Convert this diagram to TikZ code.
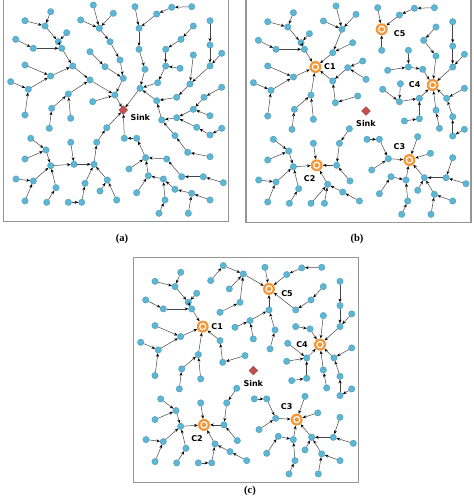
\documentclass[tikz,border=0pt]{standalone}
\usepackage{fontspec}
\newfontfamily\lblfont{DejaVu Sans}
\newfontfamily\capfont{Liberation Serif}
\usetikzlibrary{arrows.meta,shapes.geometric}
\definecolor{sens}{RGB}{92,182,212}
\definecolor{sensd}{RGB}{62,145,178}
\definecolor{hdor}{RGB}{243,152,58}
\definecolor{sinkc}{RGB}{192,80,77}
\definecolor{edgec}{RGB}{70,70,70}
\definecolor{framec}{RGB}{150,150,150}
\tikzset{
 sensor/.style={circle, fill=sens, draw=sensd, line width=0.3pt, minimum size=6.4pt, inner sep=0pt},
 head/.style={circle, fill=hdor, minimum size=12pt, inner sep=0pt,
   path picture={\fill[white] (path picture bounding box.center) circle (3.7pt);
                 \fill[hdor] (path picture bounding box.center) circle (2.3pt);}},
 sinknode/.style={diamond, fill=sinkc, draw=sinkc!80!black, line width=0.3pt, minimum width=9pt, minimum height=9pt, inner sep=0pt},
 link/.style={draw=edgec, line width=0.5pt, -{Stealth[length=3.6pt,width=3pt,black]}},
 frm/.style={draw=framec, line width=1.2pt},
 hlabel/.style={font=\lblfont\bfseries\fontsize{8}{9}\selectfont, inner sep=0pt},
 plabel/.style={font=\capfont\bfseries\fontsize{10.5}{12}\selectfont, inner sep=0pt},
}
\def\nodelist{A/25/20.7,B/50.7/11.7,C/45/26,D/66.7/32.7,E/58.3/41.7,F/15.7/39.3,G/33.3/48.3,H/61.7/48.3,I/72.7/66,J/25/65,K/50.7/76,L/10.7/81.7,M/28.3/89.3,N/25/115,O/90/80,P/68.3/94,Q/51.7/108.3,R/70.7/118.3,S/49.3/128.3,T/93.3/5,U/113.3/13.3,V/80.7/20,W/99.3/28.3,X/110/41.7,Y/120/60,Z/90/51.7,AA/105/66.7,AB/123.3/78.3,AC/115/95,AD/92.7/101.7,BA/135/6.7,BB/171.7/7.3,BC/191.7/6.7,BD/156.7/14,BE/139/28.3,BF/139/49.3,BG/145/69.3,HB/140/88.3,BH/193.3/26,BI/181/39.3,BJ/165.7/49.3,BK/165.7/66,BM/180/68.3,BL/157.7/82.7,BN/210/20.7,BO/210/45,BP/221.7/53.3,BQ/210/66,BS/193.3/55,BT/190/84,BU/176.7/97.3,BR/156.7/100.7,CB/221.7/87.3,CC/204/97.3,CD/193.3/109.3,CE/210/115.7,CF/176.7/117.7,CA/161.7/120,CG/196.7/127.3,CH/210/135,CI/221.7/128.3,CJ/175/135.7,CK/187.7/152.3,CL/210/156.7,DA/124.3/138.3,DB/136.7/138.3,DC/145.7/157.7,DD/166.7/159,DE/129/169,DF/148.3/175.7,DG/163.3/179,DH/181.7/176.7,DI/203.3/176.7,DJ/223.3/182.7,DK/175/189.3,DL/191.7/193.3,DM/210/200,DN/188.3/213.3,DO/165/200,DP/159/213.3,DQ/136.7/192.7,EA/30.7/138.3,EB/46/150,EE/25/159,EC/50.7/165.7,EF/16/179,EH/33.3/181,EI/25/201,EJ/56/187.7,EK/46.7/202.3,EL/70.7/142.3,EG/74/164.3,EM/94/164.3,EN/96.7/142.3,EO/106.7/127.7,EP/85/183.3,EQ/81.7/202.3,ER/68.3/202.3,ES/107.3/180,ET/100/191,EU/116.7/200}
\def\edgesa{A/C,B/C,C/E,D/E,E/H,F/G,G/H,H/I,J/K,L/M,N/M,M/K,K/I,I/O,P/O,Q/P,S/Q,R/P,O/AC,AD/AC,AC/SK,T/W,U/W,V/W,W/X,X/Y,Y/AB,Z/AA,AA/AB,AB/AC,BA/BE,BC/BB,BB/BD,BD/BE,BE/BF,BF/BG,BG/HB,BH/BI,BI/BJ,BJ/BK,BM/BK,BK/BL,BL/HB,BN/BO,BO/BQ,BP/BQ,BQ/BT,BS/BT,BT/BU,BU/BR,BR/HB,HB/SK,CB/CC,CC/CD,CE/CD,CD/CF,CF/CA,CA/BR,CI/CH,CH/CG,CG/CF,CL/CK,CK/CJ,CJ/CA,DB/DA,DA/SK,DC/DB,DD/DC,DE/DC,DF/DC,DG/DF,DQ/DF,DH/DD,DI/DH,DJ/DI,DK/DG,DL/DK,DM/DL,DN/DL,DO/DG,DP/DO,EA/EB,EE/EB,EB/EC,EF/EH,EI/EH,EH/EC,EJ/EC,EK/EJ,EC/EG,EL/EG,EG/EM,EM/EN,EN/EO,EO/SK,EP/EM,ER/EQ,EQ/EP,ES/EM,ET/ES,EU/ES}
\def\edgesb{A/C,B/C,C/E,D/E,E/H,F/G,G/H,H/I,J/K,L/M,N/M,M/K,K/I,T/W,U/W,V/W,W/Z,X/Z,Z/I,Y/AA,AB/AA,AA/O,O/I,AC/AD,AD/O,P/I,Q/P,S/Q,R/P,BA/BE,BC/BB,BB/BD,BD/BE,BF/BE,BH/BI,BI/BS,BS/BT,BN/BO,BO/BQ,BP/BQ,BQ/BT,BJ/BK,BG/BK,BK/BM,BM/BT,HB/BR,BL/BR,BR/BU,BU/BT,CB/CC,CC/BT,CE/CC,CH/CE,CI/CH,CD/BT,CG/CD,CF/BU,CA/CF,DA/DB,DB/DC,DC/DD,DE/DC,CJ/DD,CK/DD,DF/DG,DQ/DF,DG/DD,DH/DD,DI/DH,CL/DI,DJ/DI,DK/DH,DL/DH,DM/DL,DN/DL,DO/DG,DP/DO,EA/EB,EE/EB,EB/EC,EC/EG,EL/EG,EF/EH,EI/EH,EH/EC,EJ/EC,EK/EJ,EM/EG,EN/EM,EO/EN,ES/EM,EP/EG,ET/EP,EU/ET,EQ/EP,ER/EP}
\def\edgesc{A/C,B/C,C/E,D/E,E/H,F/G,G/H,H/I,J/K,L/M,N/M,M/K,K/I,P/I,Q/P,S/Q,R/P,O/I,AD/O,AC/AD,V/T,T/U,W/U,Z/X,X/U,U/BE,BA/BE,BD/BE,BB/BD,BC/BB,BH/BI,BI/BJ,BJ/BE,BF/BE,Y/BF,AA/Y,AB/Y,BG/BF,HB/BG,BS/BT,BN/BO,BO/BQ,BP/BQ,BQ/BT,BK/BM,BM/BT,BL/BU,BR/BU,BU/BT,CA/CF,CF/BU,CD/BT,CG/CD,CB/CC,CC/BT,CE/CC,CH/CE,CI/CH,DA/DB,DB/DC,DC/DD,DE/DC,CJ/DD,CK/DD,DQ/DF,DF/DG,DG/DD,DH/DD,DI/DH,CL/DI,DJ/DI,DK/DH,DL/DH,DM/DL,DN/DL,DO/DG,DP/DO,EA/EB,EE/EB,EB/EC,EC/EG,EL/EG,EF/EH,EI/EH,EH/EC,EJ/EC,EK/EJ,EM/EG,EN/EM,EO/EN,ES/EM,EP/EG,ET/EP,EU/ET,EQ/EP,ER/EQ}
\expandafter\def\csname hdbI\endcsname{1}
\expandafter\def\csname hdbBE\endcsname{1}
\expandafter\def\csname hdbBT\endcsname{1}
\expandafter\def\csname hdbDD\endcsname{1}
\expandafter\def\csname hdbEG\endcsname{1}
\expandafter\def\csname hdcI\endcsname{1}
\expandafter\def\csname hdcBE\endcsname{1}
\expandafter\def\csname hdcBT\endcsname{1}
\expandafter\def\csname hdcDD\endcsname{1}
\expandafter\def\csname hdcEG\endcsname{1}
\newcommand\drawpanel[2]{%
  \foreach \n/\x/\y in \nodelist {%
    \ifcsname hd#1\n\endcsname
      \node[head] (#1\n) at (\x,\y) {};
    \else
      \node[sensor] (#1\n) at (\x,\y) {};
    \fi
  }%
  \node[sinknode] (#1SK) at (123.3,110) {};
  \foreach \s/\t in #2 {\draw[link] (#1\s) -- (#1\t);}%
  \draw[frm] (3.3,-2.9) rectangle (228.3,221.7);
}
\newcommand\headlabels[1]{%
  \node[hlabel] at ([xshift=14.5pt]#1I) {C1};
  \node[hlabel] at ([xshift=18pt,yshift=-4.5pt]#1BE) {C5};
  \node[hlabel] at ([xshift=-18pt]#1BT) {C4};
  \node[hlabel] at ([xshift=-7pt,yshift=-13.5pt]#1EG) {C2};
  \node[hlabel] at ([xshift=-10pt,yshift=13.5pt]#1DD) {C3};
  \node[hlabel] at ([yshift=-12.5pt]#1SK) {Sink};
}
\begin{document}
\begin{tikzpicture}[x=1pt,y=-1pt]
\useasboundingbox (0,0) rectangle (474,499);
\begin{scope}
  \drawpanel{a}{\edgesa}
  \node[hlabel] at ([xshift=17pt,yshift=-7.5pt]aSK) {Sink};
\end{scope}
\begin{scope}[shift={(242.7,1)}]
  \drawpanel{b}{\edgesb}
  \headlabels{b}
\end{scope}
\begin{scope}[shift={(130,260.6)}]
  \drawpanel{c}{\edgesc}
  \headlabels{c}
\end{scope}
\node[plabel] (la) at (122,238.5) {(a)};
\node[plabel] (lb) at (357,238.5) {(b)};
\node[plabel] (lc) at (250,490.5) {(c)};
\end{tikzpicture}
\end{document}
